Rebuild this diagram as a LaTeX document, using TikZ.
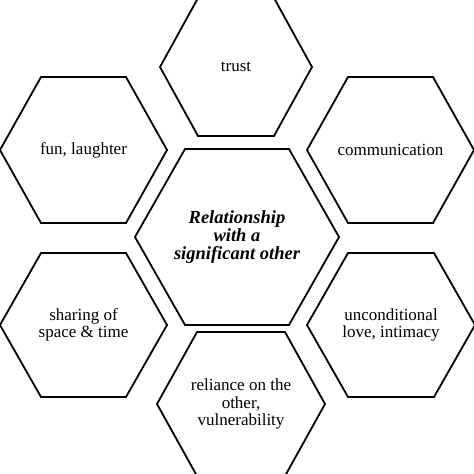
\documentclass[tikz,border=0pt]{standalone}
\usepackage{fontspec}
\setmainfont{Liberation Serif}
\begin{document}
\begin{tikzpicture}[x=1pt, y=-1pt, line join=miter]
    \tikzset{hex line/.style={draw=black, line width=1.8pt},
             hex text/.style={align=center, inner sep=0pt, font=\fontsize{17}{17.5}\selectfont},
             core text/.style={align=center, inner sep=0pt, font=\fontsize{18.5}{18.3}\selectfont\bfseries\itshape}}
    \useasboundingbox (0,0) rectangle (474,474);

    % Centre
    \node[core text] (core) at (237, 237) {Relationship\\with a\\significant other};
    \draw[hex line] (core.center) ++(-102,0) -- ++(50,-88) -- ++(104,0) -- ++(50,88) -- ++(-50,88) -- ++(-104,0) -- cycle;

    % Top
    \node[hex text] (trust) at (236, 67) {trust};
    \draw[hex line] (trust.center) ++(-76,0) -- ++(38,-69) -- ++(76,0) -- ++(38,69) -- ++(-38,69) -- ++(-76,0) -- cycle;

    % Upper left and right
    \node[hex text] (fun) at (83.5, 150) {fun, laughter};
    \draw[hex line] (fun.center) ++(-83.5,0) -- ++(41,-73) -- ++(85,0) -- ++(41,73) -- ++(-41,73) -- ++(-85,0) -- cycle;

    \node[hex text] (comm) at (390.5, 150) {communication};
    \draw[hex line] (comm.center) ++(-83.5,0) -- ++(41,-73) -- ++(85,0) -- ++(41,73) -- ++(-41,73) -- ++(-85,0) -- cycle;

    % Lower left and right
    \node[hex text] (sharing) at (83.5, 325) {sharing of\\space \& time};
    \draw[hex line] (sharing.center) ++(-83.5,0) -- ++(41,-72) -- ++(85,0) -- ++(41,72) -- ++(-41,72) -- ++(-85,0) -- cycle;

    \node[hex text] (love) at (391, 325) {unconditional\\love, intimacy};
    \draw[hex line] (love.center) ++(-84,0) -- ++(41,-72) -- ++(86,0) -- ++(41,72) -- ++(-41,72) -- ++(-86,0) -- cycle;

    % Bottom
    \node[hex text] (reliance) at (241, 404) {reliance on the\\other,\\vulnerability};
    \draw[hex line] (reliance.center) ++(-84,0) -- ++(40,-72) -- ++(88,0) -- ++(40,72) -- ++(-40,72) -- ++(-88,0) -- cycle;
\end{tikzpicture}
\end{document}
